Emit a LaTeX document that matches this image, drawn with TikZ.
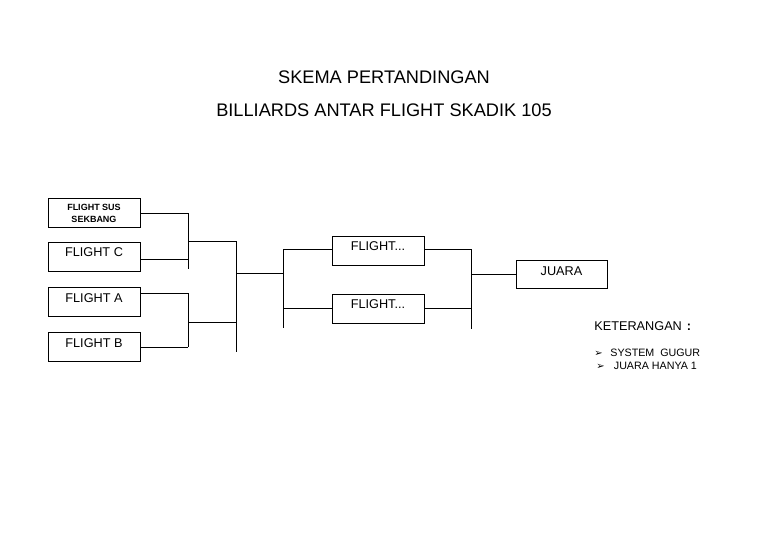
\documentclass[tikz,border=0pt]{standalone}
\usepackage{fontspec}
\setmainfont{Liberation Sans}
\newfontfamily\dejavu{DejaVu Sans}
\begin{document}
\begin{tikzpicture}[x=1pt,y=-1pt,line width=0.8pt,
  boxbase/.style={draw, line width=0.8pt, minimum width=92pt, minimum height=29pt, inner xsep=0pt, inner ysep=0pt},
  box/.style={boxbase, text height=14.5pt, text depth=14.5pt, font=\fontsize{12.7}{15}\selectfont},
  title/.style={anchor=base, font=\fontsize{18.2}{21}\selectfont},
  note/.style={anchor=base west, inner sep=0pt, font=\fontsize{10.7}{13}\selectfont},
  arr/.style={anchor=base west, inner sep=0pt, font=\dejavu\fontsize{10}{12}\selectfont}]
\useasboundingbox[fill=white] (0,0) rectangle (768,543);
% title
\node[title] (t1) at (384,83) {SKEMA PERTANDINGAN};
\node[title] (t2) at (384,116) {BILLIARDS ANTAR FLIGHT SKADIK 105};
% boxes
\node[boxbase, align=center, font=\fontsize{9}{12}\selectfont\bfseries] (sus) at (94,213) {FLIGHT SUS\\SEKBANG};
\node[box] (c) at (94,256.5) {FLIGHT C};
\node[box] (a) at (94,302) {FLIGHT A};
\node[box] (b) at (94,347) {FLIGHT B};
\node[box] (f1) at (378,250.5) {FLIGHT...};
\node[box] (f2) at (378,308.5) {FLIGHT...};
\node[box, minimum width=91pt, minimum height=28pt, text depth=13.5pt] (juara) at (561.5,274.5) {JUARA};
% joints
\coordinate (j1a) at (188,213);
\coordinate (j1b) at (188,269);
\coordinate (j1c) at (188,259);
\coordinate (j1m) at (188,241);
\coordinate (j2a) at (188,293);
\coordinate (j2b) at (188,347);
\coordinate (j2m) at (188,322);
\coordinate (j3a) at (236,241);
\coordinate (j3b) at (236,352);
\coordinate (j3c) at (236,322);
\coordinate (j3m) at (236,273);
\coordinate (j4a) at (283,249);
\coordinate (j4b) at (283,328);
\coordinate (j4c) at (283,308.5);
\coordinate (j4m) at (283,273);
\coordinate (j5a) at (471,249);
\coordinate (j5b) at (471,329);
\coordinate (j5c) at (471,308.5);
\coordinate (j5m) at (471,274.5);
% connectors
\draw (sus.east) -- (j1a) -- (j1b);
\draw ([yshift=-2.5pt]c.east) -- (j1c);
\draw (j1m) -- (j3a) -- (j3b);
\draw ([yshift=9pt]a.east) -- (j2a) -- (j2b);
\draw (b.east) -- (j2b);
\draw (j2m) -- (j3c);
\draw (j3m) -- (j4m);
\draw ([yshift=1.5pt]f1.west) -- (j4a) -- (j4b);
\draw (f2.west) -- (j4c);
\draw ([yshift=1.5pt]f1.east) -- (j5a) -- (j5b);
\draw (f2.east) -- (j5c);
\draw (j5m) -- (juara.west);
% notes
\node[anchor=base west, inner sep=0pt, font=\fontsize{12.7}{15}\selectfont] (ket) at (594,330) {KETERANGAN\hspace{5pt}\textbf{:}};
\node[arr] (n1b) at (594,356) {➢};
\node[note] (n1) at (610,356) {SYSTEM\ \ GUGUR};
\node[arr] (n2b) at (596,369) {➢};
\node[note] (n2) at (613.5,369) {JUARA HANYA 1};
\end{tikzpicture}
\end{document}
